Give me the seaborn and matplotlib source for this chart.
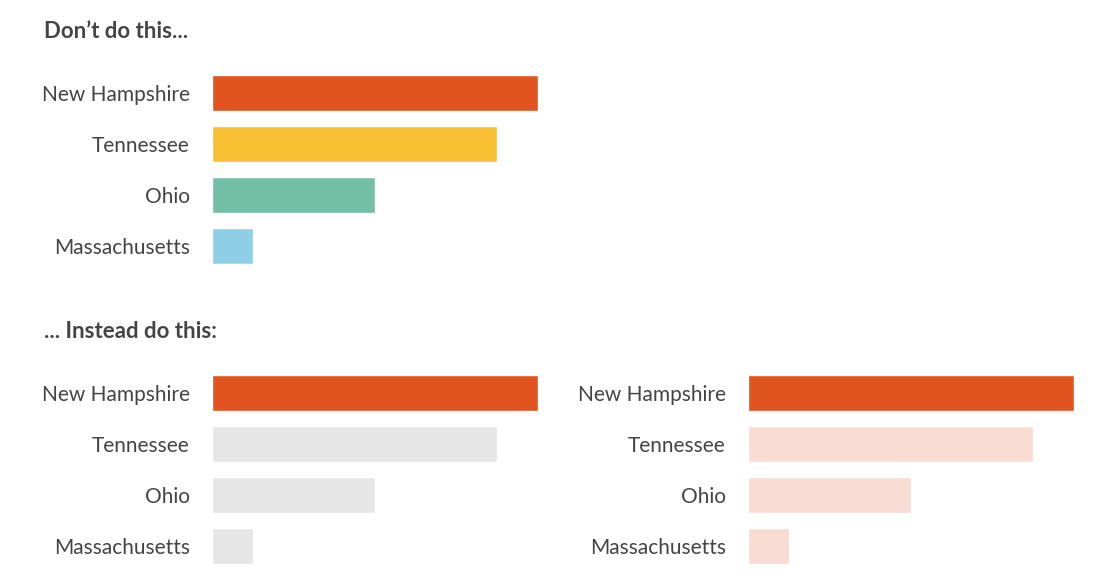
import matplotlib
matplotlib.use("Agg")
import matplotlib.pyplot as plt
import seaborn as sns
import pandas as pd

states = ["New Hampshire", "Tennessee", "Ohio", "Massachusetts"]
values = [8, 7, 4, 1]
colors_bad = ["#E2541F", "#F9C033", "#72BFA5", "#8ECFE5"]
colors_gray = ["#E2541F", "#E6E6E6", "#E6E6E6", "#E6E6E6"]
colors_tint = ["#E2541F", "#F8DCD2", "#F8DCD2", "#F8DCD2"]

sns.set_style("white")
plt.rcParams["font.family"] = ["Lato", "DejaVu Sans"]

W, H = 1117, 586
fig = plt.figure(figsize=(W / 100, H / 100), dpi=100)

df = pd.DataFrame({"state": states, "value": values})


def bar_axes(left_px, top_px, palette):
    # 8 units = 326 px wide, 4 bands of 51 px
    ax = fig.add_axes([left_px / W, 1 - (top_px + 204) / H, 326 / W, 204 / H])
    sns.barplot(data=df, x="value", y="state", hue="state", palette=palette,
                legend=False, width=0.72, saturation=1, ax=ax)
    ax.set_xlim(0, 8)
    ax.set_xlabel("")
    ax.set_ylabel("")
    ax.set_xticks([])
    ax.tick_params(axis="y", length=0, pad=16, labelsize=15, labelcolor="#444444")
    sns.despine(ax=ax, left=True, bottom=True)
    return ax


bar_axes(212, 67.5, colors_bad)
bar_axes(212, 367.5, colors_gray)
bar_axes(748, 367.5, colors_tint)

fig.text(44 / W, 1 - 32 / H, "Don\u2019t do this...", fontsize=16, fontweight="bold",
         color="#444444", va="center", ha="left")
fig.text(44 / W, 1 - 332 / H, "... Instead do this:", fontsize=16, fontweight="bold",
         color="#444444", va="center", ha="left")

fig.savefig("out.png", dpi=100)
